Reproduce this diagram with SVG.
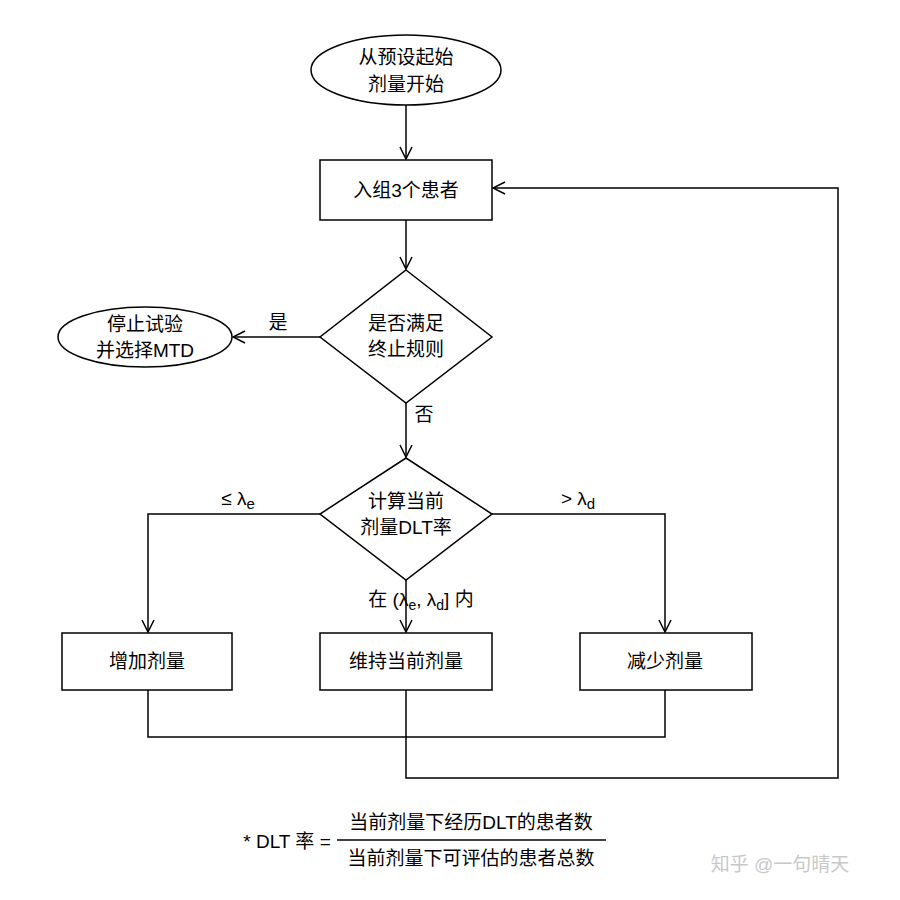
<svg xmlns="http://www.w3.org/2000/svg" width="900" height="900" viewBox="0 0 900 900">
<style>
.s{fill:#fff;stroke:#000;stroke-width:1.5}
.l{fill:none;stroke:#000;stroke-width:1.5}
text{font-family:"Liberation Sans","Noto Sans CJK SC",sans-serif;font-size:19px;fill:#000;text-anchor:middle}
</style>
<defs><marker id="a" markerWidth="14" markerHeight="14" refX="13" refY="7" orient="auto" markerUnits="userSpaceOnUse"><path d="M1,1 L13,7 L1,13" fill="none" stroke="#000" stroke-width="1.5"/></marker></defs>
<rect width="900" height="900" fill="#fff"/>
<g id="connectors">
<path class="l" d="M406,105 V159" marker-end="url(#a)"/>
<path class="l" d="M406,220 V269" marker-end="url(#a)"/>
<path class="l" d="M320,337 H233" marker-end="url(#a)"/>
<path class="l" d="M406,403 V457" marker-end="url(#a)"/>
<path class="l" d="M320,514 H148 V632" marker-end="url(#a)"/>
<path class="l" d="M492,514 H665 V632" marker-end="url(#a)"/>
<path class="l" d="M406,580 V632" marker-end="url(#a)"/>
<path class="l" d="M148,690 V737 H665 V690"/>
<path class="l" d="M406,690 V778 H838 V188 H493" marker-end="url(#a)"/>
<text x="278" y="329">是</text>
<text x="424" y="421">否</text>
<text x="238" y="505" font-size="21">≤ λ<tspan font-size="15" dy="4">e</tspan></text>
<text x="578" y="505" font-size="21">&gt; λ<tspan font-size="15" dy="4">d</tspan></text>
<text x="421" y="606" font-size="20">在 (λ<tspan font-size="14" dy="4">e</tspan><tspan dy="-4">, λ</tspan><tspan font-size="14" dy="4">d</tspan><tspan dy="-4">] 内</tspan></text>
</g>
<g id="start"><ellipse class="s" cx="406" cy="70" rx="95" ry="35"/><text x="406" y="64">从预设起始</text><text x="406" y="91">剂量开始</text></g>
<g id="enroll"><rect class="s" x="320" y="160" width="172" height="60"/><text x="406" y="197">入组3个患者</text></g>
<g id="stopcheck"><path class="s" d="M406,270 L492,337 L406,403 L320,337 Z"/><text x="406" y="330">是否满足</text><text x="406" y="356">终止规则</text></g>
<g id="stop"><ellipse class="s" cx="145" cy="337" rx="87" ry="30"/><text x="145" y="331">停止试验</text><text x="145" y="357">并选择MTD</text></g>
<g id="calc"><path class="s" d="M406,458 L492,514 L406,580 L320,514 Z"/><text x="406" y="508">计算当前</text><text x="406" y="534">剂量DLT率</text></g>
<g id="inc"><rect class="s" x="62" y="633" width="170" height="57"/><text x="147" y="668">增加剂量</text></g>
<g id="keep"><rect class="s" x="320" y="633" width="172" height="57"/><text x="406" y="668">维持当前剂量</text></g>
<g id="dec"><rect class="s" x="580" y="633" width="172" height="57"/><text x="665" y="668">减少剂量</text></g>
<g id="formula">
<text x="287" y="848" font-size="20">* DLT 率 =</text>
<text x="471" y="829" font-size="20">当前剂量下经历DLT的患者数</text>
<line class="l" x1="337" y1="840" x2="606" y2="840"/>
<text x="471" y="865" font-size="20">当前剂量下可评估的患者总数</text>
<text x="780" y="871" font-size="27" style="fill:#c8c8c8">知乎 @一句晴天</text>
</g>
</svg>
